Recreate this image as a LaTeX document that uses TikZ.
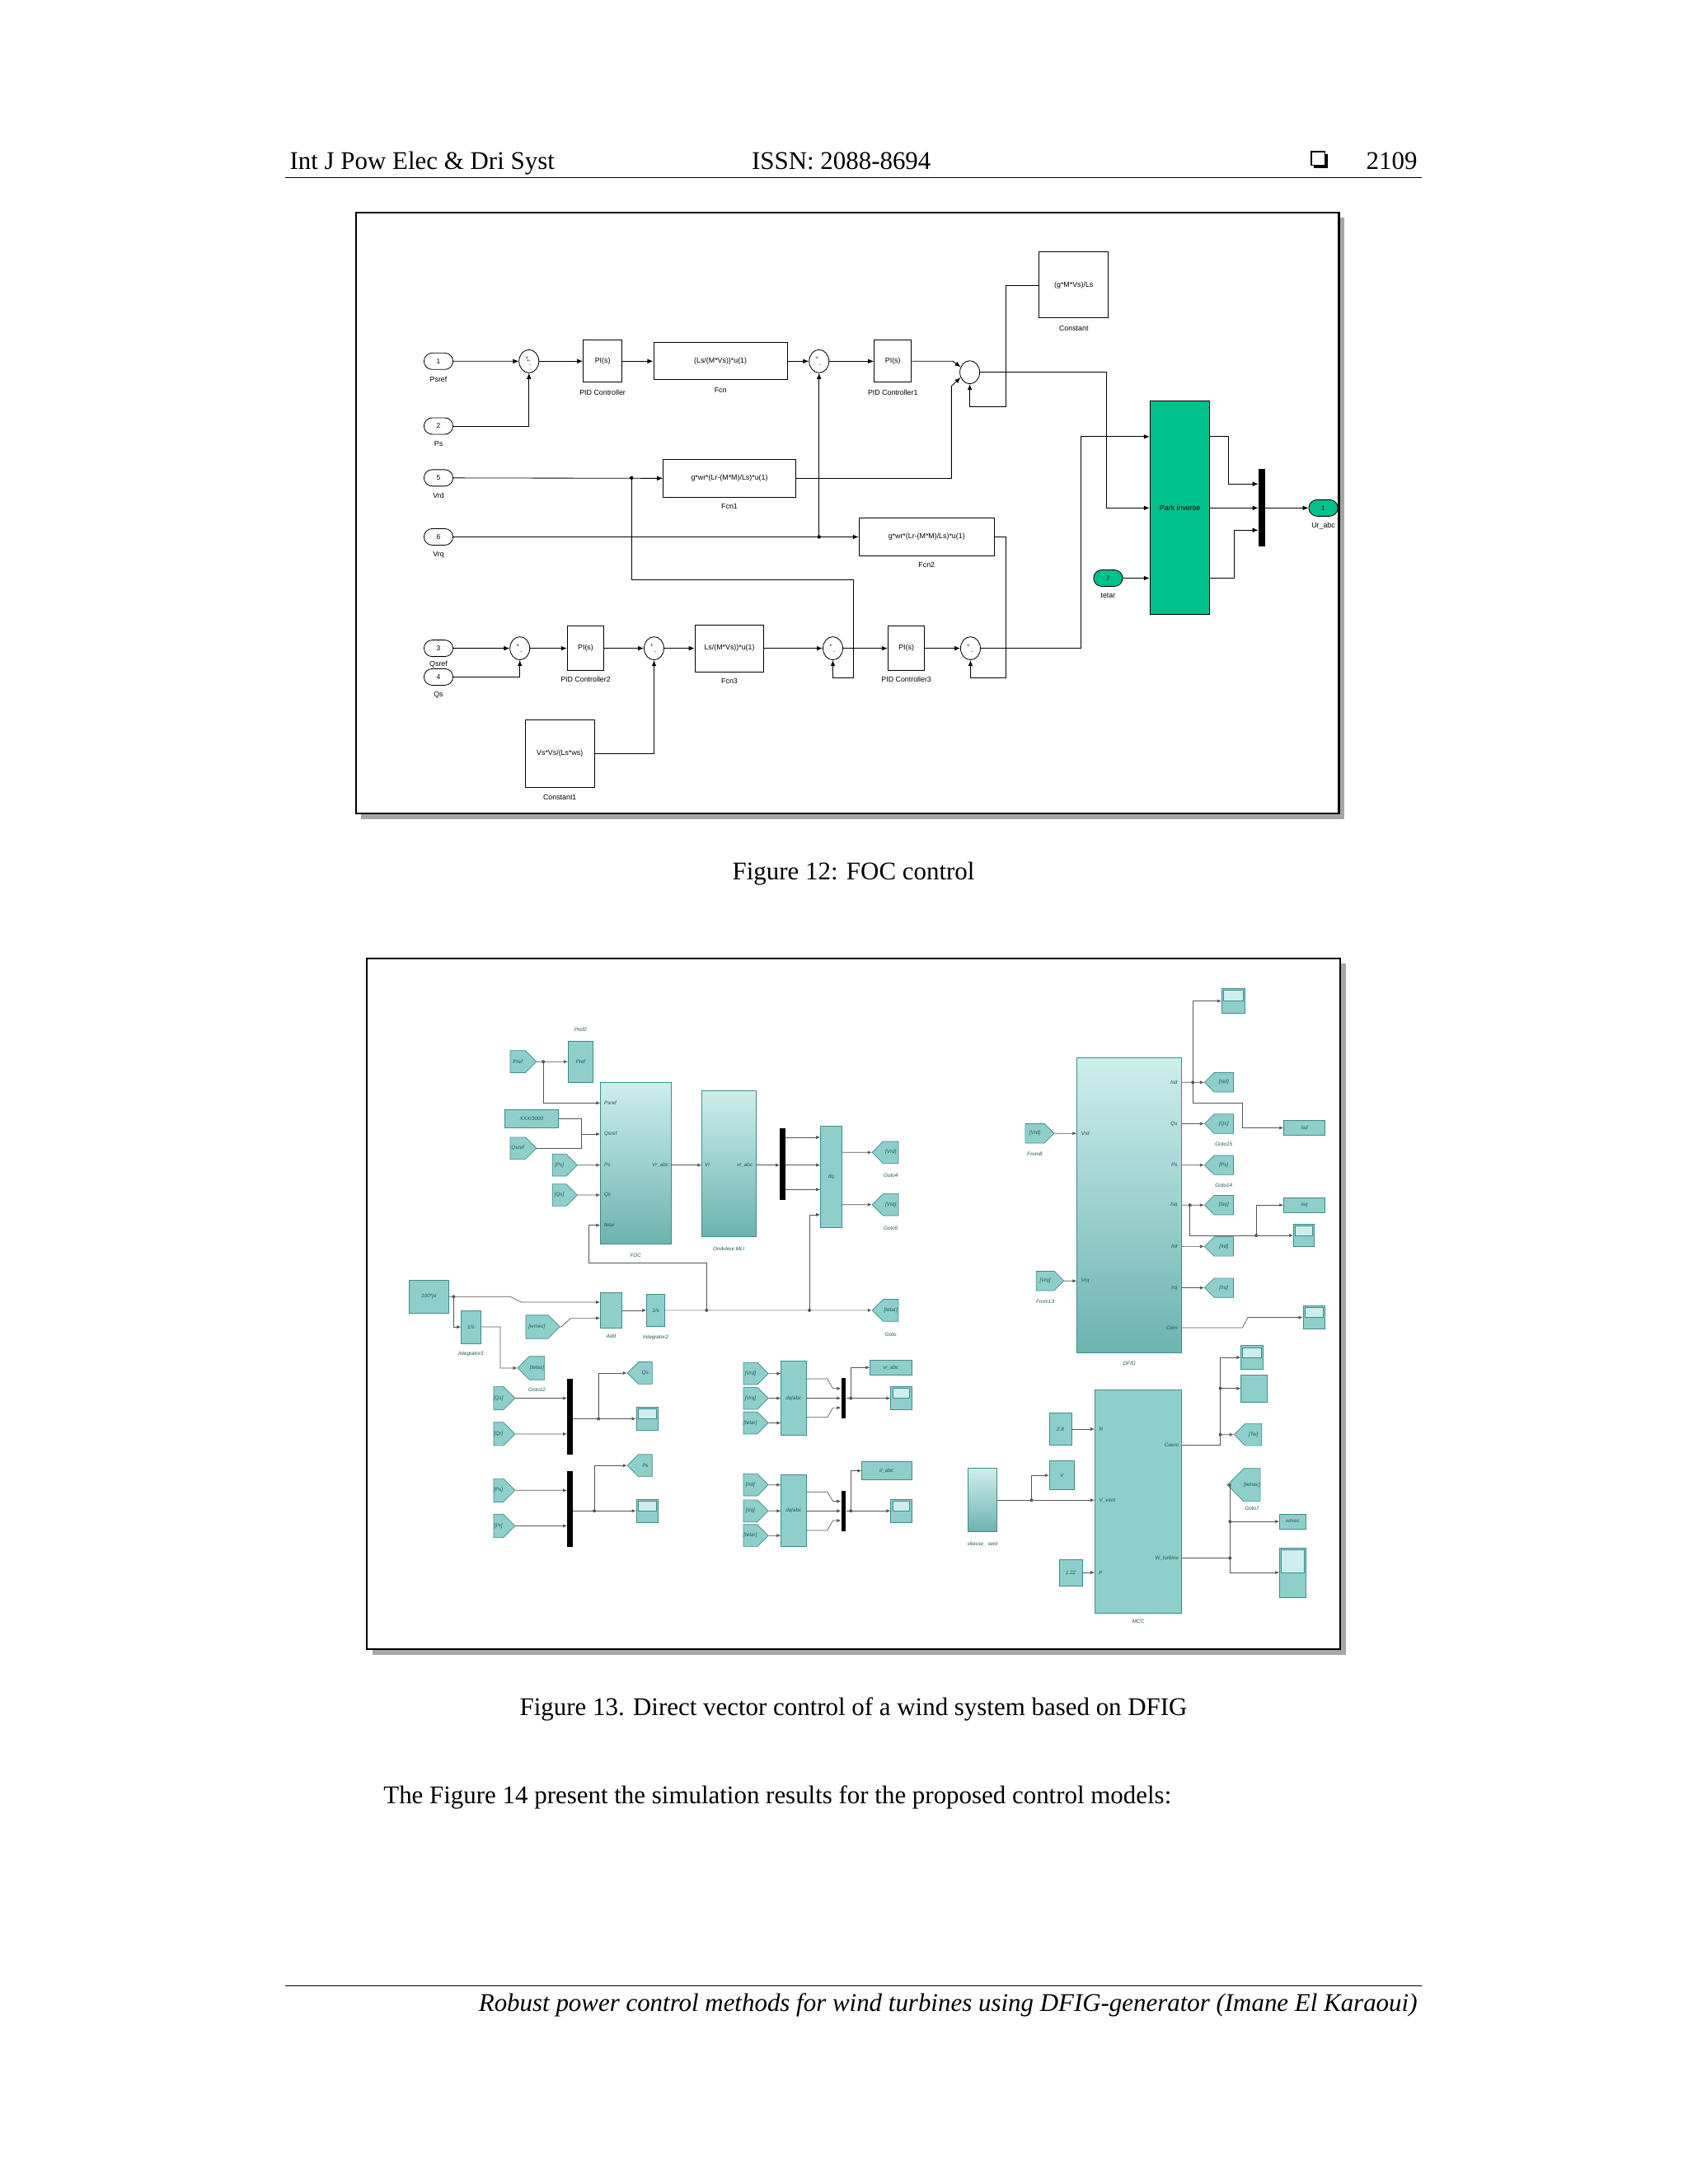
\documentclass[tikz,border=0pt]{standalone}
\usepackage{fontspec}
\setmainfont{Liberation Serif}
\newfontfamily\simfont{Liberation Sans}
\usetikzlibrary{arrows.meta,shapes.misc,shapes.symbols,shapes.geometric,calc}
\definecolor{pgreen}{HTML}{00C08B}
\definecolor{tealD}{HTML}{3F8C89}
\definecolor{tealM}{HTML}{8ECFCB}
\definecolor{tealL}{HTML}{CDEEED}
\definecolor{tealB}{HTML}{6DB3B0}
\definecolor{tealT}{HTML}{1F5553}
\definecolor{lineg}{HTML}{555555}
\newcommand\B[7][blk]{\node[#1,minimum width={#5*0.4183mm},minimum height={#6*0.4183mm}] (#2) at (#3,#4) {#7};}
\tikzset{
 frm/.style={draw, line width=1.6pt, fill=white},
 blk/.style={draw, fill=white, line width=0.7pt, inner sep=0pt, font=\simfont\fontsize{6.3}{7}\selectfont},
 sumc/.style={ellipse, draw, fill=white, minimum width=6mm, minimum height=7mm, inner sep=0pt, line width=0.6pt, font=\simfont\fontsize{4}{4.5}\selectfont},
 port/.style={rounded rectangle, draw, fill=white, minimum width=8.8mm, minimum height=5mm, inner sep=0pt, line width=0.6pt, font=\simfont\fontsize{6}{7}\selectfont},
 gport/.style={port, fill=pgreen},
 lbl/.style={font=\simfont\fontsize{6.3}{7}\selectfont, inner sep=0pt},
 ar/.style={-{Latex[length=5pt,width=4pt]}, line width=0.6pt},
 bar/.style={fill=black, draw=none, inner sep=0pt},
 tb/.style={draw=tealD, fill=tealM, line width=0.5pt, inner sep=0pt, font=\simfont\itshape\fontsize{4.5}{5}\selectfont, text=tealT},
 bigt/.style={tb, top color=tealL, bottom color=tealB},
 gto/.style={tb, signal, signal to=west},
 fro/.style={tb, signal, signal to=east},
 scp/.style={tb, path picture={\draw[tealD,fill=tealL] ($(path picture bounding box.north west)+(1.5pt,-1.5pt)$) rectangle ($(path picture bounding box.east)+(-1.5pt,0)$);}},
 t13/.style={font=\simfont\itshape\fontsize{4.5}{5}\selectfont, text=tealT, inner sep=0pt},
 ar13/.style={-{Latex[length=3.5pt,width=3pt]}, line width=0.5pt, draw=lineg},
 ln13/.style={line width=0.5pt, draw=lineg},
 jd/.style={fill=lineg},
 txt/.style={font=\fontsize{22}{26}\selectfont, inner sep=0pt},
}
\begin{document}
\begin{tikzpicture}[x=0.4183mm,y=-0.4183mm]
\useasboundingbox (0,0) rectangle (1224,1584);
% ---------- page text ----------
\node[txt,anchor=base west] (h1) at (210,123) {Int J Pow Elec \& Dri Syst};
\node[txt,anchor=base west] (h2) at (545,123) {ISSN: 2088-8694};
\draw[line width=0.8pt] (951,110) rectangle (961,120);
\draw[line width=1.6pt] (953,121) -- (962,121) -- (962,112);
\node[txt,anchor=base east] (h3) at (1028,123) {2109};
\draw[line width=0.8pt] (207,129) -- (1031,129);
\node[txt,anchor=base] (cap12) at (619,638) {Figure 12: FOC control};
\node[txt,anchor=base] (cap13) at (619,1244) {Figure 13. Direct vector control of a wind system based on DFIG};
\node[txt,anchor=base west] (body) at (278,1308) {The Figure 14 present the simulation results for the proposed control models:};
\draw[line width=0.8pt] (207,1440) -- (1031,1440);
\node[txt,anchor=base east,font=\fontsize{22}{26}\selectfont\itshape] (foot) at (1028,1459) {Robust power control methods for wind turbines using DFIG-generator (Imane El Karaoui)};

% ---------- Figure 12 ----------
\fill[black!35] (262,158) rectangle (975,594);
\draw[frm] (258,154) rectangle (971,590);
\node[port] (p1) at (318,262) {1}; \node[lbl] at (318,275) {Psref};
\node[port] (p2) at (318,309) {2}; \node[lbl] at (318,322) {Ps};
\node[port] (p5) at (318,346.6) {5}; \node[lbl] at (318,359.5) {Vrd};
\node[port] (p6) at (318,389.4) {6}; \node[lbl] at (318,402.5) {Vrq};
\node[port] (p3) at (318,470.2) {3}; \node[lbl] at (318,482) {Qsref};
\node[port] (p4) at (318,491) {4}; \node[lbl] at (318,504) {Qs};
\node[sumc] (s1) at (383.6,262) {+\\[-2pt]-};
\B{pi}{437}{262}{28}{30.6}{PI(s)} \node[lbl] at (437,285) {PID Controller};
\B{fcn}{522.5}{262}{97}{27}{(Ls/(M*Vs))*u(1)} \node[lbl] at (522.5,283) {Fcn};
\node[sumc] (s2) at (594,262) {};
\B{pi1}{647.5}{262}{27}{30.6}{PI(s)} \node[lbl] at (647.5,285) {PID Controller1};
\node[sumc] (s3) at (703.3,270) {};
\B{const}{778.7}{206.8}{50}{47.8}{(g*M*Vs)/Ls} \node[lbl] at (778.7,238) {Constant};
\B{fcn1}{529}{347}{96}{28}{g*wr*(Lr-(M*M)/Ls)*u(1)} \node[lbl] at (529,367.5) {Fcn1};
\B{fcn2}{672}{389.4}{98}{27.5}{g*wr*(Lr-(M*M)/Ls)*u(1)} \node[lbl] at (672,409.5) {Fcn2};
\B[blk,fill=pgreen]{park}{855.7}{368.4}{43.4}{155}{Park inverse}
\B[bar]{mux}{915}{368.4}{4.5}{56}{}
\node[gport] (out) at (959.7,368.4) {1}; \node[lbl] at (959.7,381.5) {Ur\_abc};
\node[gport] (tet) at (803.6,419.3) {7}; \node[lbl] at (803.6,432) {tetar};
\node[sumc] (s4) at (377,470.2) {};
\B{pi2}{424.7}{470.2}{26.6}{32}{PI(s)} \node[lbl] at (424.7,493) {PID Controller2};
\node[sumc] (s5) at (474.3,470.2) {};
\B{fcn3}{529}{470.2}{50}{34}{Ls/(M*Vs))*u(1)} \node[lbl] at (529,494) {Fcn3};
\node[sumc] (s6) at (604,470.2) {};
\B{pi3}{657.3}{470.2}{26.6}{32}{PI(s)} \node[lbl] at (657.3,493) {PID Controller3};
\node[sumc] (s7) at (703.8,470.2) {};
\B{c1}{406}{546.5}{50}{49}{Vs*Vs/(Ls*ws)} \node[lbl] at (406,578) {Constant1};
\foreach \s in {s1,s2,s4,s5,s6,s7} {\node[lbl,font=\simfont\fontsize{4.5}{5}\selectfont] at ($(\s.center)+(-1.5,-2)$) {+}; \node[lbl,font=\simfont\fontsize{4.5}{5}\selectfont] at ($(\s.center)+(1,3)$) {-};}
\draw[ar] (p1) -- (s1);
\draw[ar] (p2) -| (s1);
\draw[ar] (s1) -- (pi);
\draw[ar] (pi) -- (fcn);
\draw[ar] (fcn) -- (s2);
\draw[ar] (s2) -- (pi1);
\draw[ar] (pi1.east) -- (691,262) -- (s3.150);
\draw[ar] (fcn1.east) -| (690,280) -- (s3.210);
\draw[ar] (const.west) -| (729.3,294.8) -| (s3.south);
\draw[ar] (p5) -- (fcn1);
\fill (458,346.6) circle (1.3);
\draw[ar] (458,346.6) -- (458,420.4) -| (619,491.7) -| (s6.south);
\draw[ar] (p6) -- (fcn2);
\fill (594,389.4) circle (1.3);
\draw[ar] (594,389.4) -- (s2.south);
\draw[ar] (fcn2.east) -| (729.7,491.7) -| (s7.south);
\draw[ar] (s3.east) -| (802.3,368.4) -- (park.west);
\draw[ar] (s7.east) -| (783.8,316.7) -- (park.west |- 0,316.7);
\draw[ar] (tet) -- (park.west |- 0,419.3);
\draw[ar] (park.east |- 0,316.7) -| (890.6,351) -- (mux.west |- 0,351);
\draw[ar] (park.east) -- (mux.west);
\draw[ar] (park.east |- 0,419.3) -| (895,384.5) -- (mux.west |- 0,384.5);
\draw[ar] (mux) -- (out);
\draw[ar] (p3) -- (s4);
\draw[ar] (p4) -| (s4);
\draw[ar] (s4) -- (pi2);
\draw[ar] (pi2) -- (s5);
\draw[ar] (s5) -- (fcn3);
\draw[ar] (fcn3) -- (s6);
\draw[ar] (s6) -- (pi3);
\draw[ar] (pi3) -- (s7);
\draw[ar] (c1.east) -| (s5.south);

% ---------- Figure 13 ----------
\fill[black!35] (270,699) rectangle (976,1200);
\draw[frm] (266,695) rectangle (972,1196);
% FOC part
\B[fro]{fPref}{375.5}{770}{19}{16}{Pref}
\B[tb]{pref2}{421}{770}{18}{30}{Pref} \node[t13] at (421,747) {Pref2};
\B[bigt]{foc}{461}{843.7}{51}{117.5}{} \node[t13] at (461,910.5) {FOC};
\node[t13,anchor=west] at (438,800) {Psref};
\node[t13,anchor=west] at (438,822.5) {Qsref};
\node[t13,anchor=west] at (438,845) {Ps};
\node[t13,anchor=west] at (438,866.7) {Qs};
\node[t13,anchor=west] at (438,888.6) {tetar};
\node[t13,anchor=east] at (485,845) {Vr\_abc};
\B[tb]{cxx}{385.5}{811.5}{39}{13}{XXX/3000}
\B[fro]{fQsref}{375.5}{832.8}{19}{16}{Qsref}
\B[fro]{fPs}{405.6}{845}{18}{16}{[Ps]}
\B[fro]{fQs}{405.6}{866.7}{18}{16}{[Qs]}
\B[bigt]{ond}{528.6}{843.8}{39}{105.6}{} \node[t13] at (528.6,905.5) {Onduleur MLI};
\node[t13,anchor=west] at (511,845) {Vr};
\node[t13,anchor=east] at (546,845) {vr\_abc};
\B[bar]{mux1}{567.7}{844}{4}{52}{}
\B[tb]{parkb}{602.8}{853.5}{15.5}{74}{dq}
\B[gto]{gVrd}{646}{835.8}{19}{16}{[Vrd]} \node[t13] at (646,852.7) {Goto4};
\B[gto]{gVrq}{646}{873.7}{19}{16}{[Vrq]} \node[t13] at (646,890.6) {Goto5};
\draw[ar13] (fPref) -- (pref2);
\fill[jd] (394,770) circle (1.2);
\draw[ar13] (394,770) |- (foc.west |- 0,800);
\draw[ar13] (cxx.east) -| (421.7,822.5) -- (foc.west |- 0,822.5);
\draw[ln13] (fQsref.east) -| (421.7,822.5);
\draw[ar13] (fPs) -- (foc.west |- 0,845);
\draw[ar13] (fQs) -- (foc.west |- 0,866.7);
\draw[ar13] (foc.east |- 0,845) -- (ond.west |- 0,845);
\draw[ar13] (ond.east |- 0,845) -- (mux1.west |- 0,845);
\draw[ar13] (mux1.east |- 0,824.9) -- (parkb.west |- 0,824.9);
\draw[ar13] (mux1.east |- 0,845) -- (parkb.west |- 0,845);
\draw[ar13] (mux1.east |- 0,862.7) -- (parkb.west |- 0,862.7);
\draw[ar13] (parkb.east |- 0,835.8) -- (gVrd);
\draw[ar13] (parkb.east |- 0,873.7) -- (gVrq);
% angle line
\B[tb]{cpi}{311}{940.4}{28.5}{24}{100*pi}
\B[tb]{add}{443.2}{950.3}{15.6}{26}{} \node[t13] at (443.2,969) {Add};
\B[tb]{int2}{475.5}{950.3}{13}{23}{1/s} \node[t13] at (475.5,970) {Integrator2};
\B[gto]{gtetar}{646}{950.3}{19}{16}{[tetar]} \node[t13] at (646,968) {Goto};
\draw[ar13] (cpi.east) -- (370,940.4) -- (378,944.4) -- (add.west |- 0,944.4);
\draw[ar13] (add) -- (int2);
\draw[ar13] (int2) -- (gtetar);
\fill[jd] (512.4,950.3) circle (1.2);
\draw[ar13] (512.4,950.3) -- (512.4,916) -| (427,888.6) -- (foc.west |- 0,888.6);
\fill[jd] (587,950.3) circle (1.2);
\draw[ar13] (587,950.3) |- (parkb.west |- 0,881);
\B[tb]{int3}{341.5}{962.4}{14}{24}{1/s} \node[t13] at (341.5,982) {Integrator3};
\fill[jd] (329,940.4) circle (1.2);
\draw[ar13] (329,940.4) |- (int3);
\B[gto]{gtetas}{389.4}{992.2}{19.5}{17}{[tetas]} \node[t13] at (389.4,1008) {Goto12};
\draw[ar13] (int3.east) -| (362.8,992.2) -- (gtetas);
\B[fro]{fwm}{389.4}{962.3}{24.7}{17}{[wmec]}
\draw[ar13] (fwm.east) -- (407,962.3) -- (414,956) -- (add.west |- 0,956);
% group A
\B[fro]{fa1}{361.5}{1014.1}{15.5}{17}{[Qs]}
\B[fro]{fa2}{361.5}{1040}{15.5}{17}{[Qr]}
\B[bar]{ba}{413.4}{1027.7}{4}{55}{}
\B[gto]{da}{468}{995.8}{18}{16}{Qs}
\B[scp]{sa}{469.2}{1029}{15.6}{17}{}
\draw[ar13] (fa1) -- (ba.west |- fa1);
\draw[ar13] (fa2) -- (ba.west |- fa2);
\draw[ar13] (ba.east |- sa) -- (sa);
\fill[jd] (434,1029) circle (1.2);
\draw[ar13] (434,1029) |- (da);
% group B
\B[fro]{fb1}{361.5}{1080.9}{15.5}{17}{[Ps]}
\B[fro]{fb2}{361.5}{1106.7}{15.5}{17}{[Pr]}
\B[bar]{bb}{413.4}{1094.3}{4}{55}{}
\B[gto]{db}{468}{1062.9}{18}{16}{Ps}
\B[scp]{sb}{469.2}{1095.8}{15.6}{17}{}
\draw[ar13] (fb1) -- (bb.west |- fb1);
\draw[ar13] (fb2) -- (bb.west |- fb2);
\draw[ar13] (bb.east |- sb) -- (sb);
\fill[jd] (431,1095.8) circle (1.2);
\draw[ar13] (431,1095.8) |- (db);
% group C
\B[fro]{fc1}{544.2}{996.2}{18}{16}{[Vrd]}
\B[fro]{fc2}{544.2}{1014.1}{18}{16}{[Vrq]}
\B[fro]{fc3}{544.2}{1032}{18}{16}{[tetar]}
\B[tb]{bc}{575.5}{1014.1}{18}{54}{dq/abc}
\B[bar]{mc}{611.8}{1014.1}{3.5}{29}{}
\B[tb]{dc}{646}{991.8}{30}{11}{vr\_abc}
\B[scp]{sc}{653.5}{1014.1}{15}{17}{}
\draw[ar13] (fc1) -- (bc.west |- fc1);
\draw[ar13] (fc2) -- (bc.west |- fc2);
\draw[ar13] (fc3) -- (bc.west |- fc3);
\draw[ar13] (bc.east |- 0,1000) -- (600,1000) -- (604,1007) -- (mc.west |- 0,1007);
\draw[ar13] (bc.east |- 0,1014.1) -- (mc.west |- 0,1014.1);
\draw[ar13] (bc.east |- 0,1028) -- (600,1028) -- (604,1021) -- (mc.west |- 0,1021);
\draw[ar13] (mc.east |- sc) -- (sc);
\fill[jd] (617,1014.1) circle (1.2);
\draw[ar13] (617,1014.1) |- (dc);
% group D
\B[fro]{fd1}{544.2}{1076.9}{18}{16}{[Ird]}
\B[fro]{fd2}{544.2}{1095.8}{18}{16}{[Irq]}
\B[fro]{fd3}{544.2}{1113.7}{18}{16}{[tetar]}
\B[tb]{bd}{575.5}{1095.6}{18}{52}{dq/abc}
\B[bar]{md}{611.8}{1095.8}{3.5}{29}{}
\B[tb]{dd}{643}{1066.7}{36}{13}{ir\_abc}
\B[scp]{sd}{653.5}{1095.8}{15}{17}{}
\draw[ar13] (fd1) -- (bd.west |- fd1);
\draw[ar13] (fd2) -- (bd.west |- fd2);
\draw[ar13] (fd3) -- (bd.west |- fd3);
\draw[ar13] (bd.east |- 0,1082) -- (600,1082) -- (604,1088.8) -- (md.west |- 0,1088.8);
\draw[ar13] (bd.east |- 0,1095.8) -- (md.west |- 0,1095.8);
\draw[ar13] (bd.east |- 0,1110) -- (600,1110) -- (604,1102.8) -- (md.west |- 0,1102.8);
\draw[ar13] (md.east |- sd) -- (sd);
\fill[jd] (617,1095.8) circle (1.2);
\draw[ar13] (617,1095.8) |- (dd);
% DFIG
\B[bigt]{dfig}{819}{874}{76}{214}{} \node[t13] at (819,989) {DFIG};
\node[t13,anchor=west] at (784,822) {Vrd};
\node[t13,anchor=west] at (784,929) {Vrq};
\B[fro]{f8}{750.5}{822}{21}{14}{[Vrd]} \node[t13] at (750.5,837) {From8};
\B[fro]{f13}{758}{929}{20}{14}{[Vrq]} \node[t13] at (758,944) {From13};
\draw[ar13] (f8) -- (dfig.west |- f8);
\draw[ar13] (f13) -- (dfig.west |- f13);
\foreach \yy/\tt in {785/Isd,815/Qs,845/Ps,874/Isq,904/Ird,934/Irq,963/Cem}
  \node[t13,anchor=east] at (854,\yy) {\tt};
\B[gto]{g1}{887.5}{785}{21}{14}{[Isd]}
\B[gto]{g2}{887.5}{815}{21}{14}{[Qs]} \node[t13] at (887.5,830) {Goto15};
\B[gto]{g3}{887.5}{845}{21}{14}{[Ps]} \node[t13] at (887.5,860) {Goto14};
\B[gto]{g4}{887.5}{874}{21}{14}{[Isq]}
\B[gto]{g5}{887.5}{904}{21}{14}{[Ird]}
\B[gto]{g6}{887.5}{934}{21}{14}{[Irq]}
\foreach \g in {g1,g2,g3,g4,g5,g6} \draw[ar13] (dfig.east |- \g) -- (\g);
\B[scp]{st1}{894.5}{726}{17}{18}{}
\fill[jd] (865,785) circle (1.2);
\draw[ar13] (865,785) |- (st1);
\B[tb]{dsd}{946}{818}{30}{11}{isd}
\draw[ar13] (865,785) -- (865,800) -| (901,818) -- (dsd);
\fill[jd] (863,874) circle (1.2);
\B[tb]{dsq}{946}{874}{30}{11}{isq}
\B[scp]{ss2}{945.5}{896}{15}{16}{}
\draw[ln13] (863,874) |- (911,896);
\fill[jd] (911,896) circle (1.2);
\draw[ar13] (911,896) |- (dsq);
\draw[ar13] (911,896) -- (ss2);
\B[scp]{sc3}{953}{955.5}{16}{17}{}
\draw[ar13] (dfig.east |- 0,963) -- (901,963) -- (905,955.5) -- (sc3);
% Turbine
\B[tb]{mcc}{825.5}{1089}{63}{162}{} \node[t13] at (825.5,1176) {MCC};
\B[tb]{c28}{769}{1036.5}{16}{23}{2.8}
\B[tb]{cV}{770}{1070}{18}{21}{V}
\B[bigt]{vent}{712.5}{1088}{21}{46}{} \node[t13] at (712.5,1120) {vitesse\_ vent};
\B[tb]{c122}{776.5}{1140.5}{17}{19}{1.22}
\node[t13,anchor=west] at (797,1036.5) {R};
\node[t13,anchor=west] at (797,1088) {V\_vent};
\node[t13,anchor=west] at (797,1140.5) {p};
\node[t13,anchor=east] at (855,1048) {Caero};
\node[t13,anchor=east] at (855,1130) {W\_turbine};
\draw[ar13] (c28) -- (mcc.west |- c28);
\draw[ar13] (c122) -- (mcc.west |- c122);
\draw[ar13] (vent) -- (mcc.west |- vent);
\fill[jd] (748,1088) circle (1.2);
\draw[ar13] (748,1088) |- (cV);
\B[scp]{s4t}{908}{984.5}{16}{17}{}
\B[tb]{xy}{909.5}{1007}{19}{20}{}
\B[gto]{gTw}{909}{1040.5}{20}{16}{[Tw]}
\draw[ln13] (mcc.east |- 0,1048) -| (885,984.5);
\draw[ar13] (885,984.5) -- (s4t);
\fill[jd] (885,1007) circle (1.2);
\draw[ar13] (885,1007) -- (xy);
\fill[jd] (885,1040.5) circle (1.2);
\draw[ar13] (885,1040.5) -- (gTw);
\B[gto]{gw}{908}{1077}{22}{24}{[wmec]} \node[t13] at (908,1094) {Goto7};
\B[tb]{dw}{937.5}{1103.5}{19}{11}{wmec}
\B[scp]{sw}{937.5}{1140.5}{19}{36}{}
\draw[ln13] (mcc.east |- 0,1130) -- (892,1130);
\draw[ar13] (892,1130) |- (gw);
\fill[jd] (892,1103.5) circle (1.2);
\draw[ar13] (892,1103.5) -- (dw);
\fill[jd] (892,1130) circle (1.2);
\draw[ar13] (892,1130) |- (sw);
\end{tikzpicture}
\end{document}
